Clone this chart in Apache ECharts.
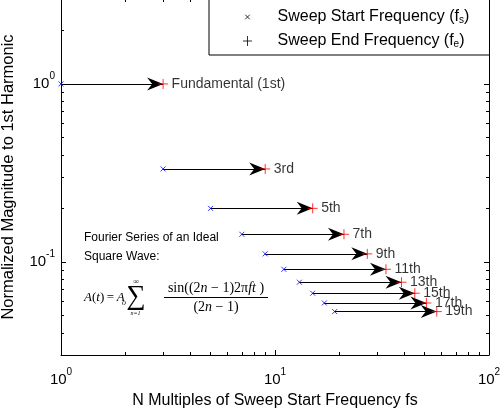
<!DOCTYPE html>
<html><head><meta charset="utf-8">
<script src="https://cdn.jsdelivr.net/npm/echarts@6/dist/echarts.min.js"></script>
<style>html,body{margin:0;padding:0;background:#fff}#c{width:500px;height:409px}</style>
</head><body><div id="c"></div>
<script>
// ---- data ----
const harmonicLabels = ['Fundamental (1st)','3rd','5th','7th','9th','11th','13th','15th','17th','19th'];
const startFreq = [1, 3, 5, 7, 9, 11, 13, 15, 17, 19];
const endFreq = [3, 9, 15, 21, 27, 33, 39, 45, 51, 57];
const magnitude = [1, 0.333, 0.2, 0.143, 0.111, 0.0909, 0.0769, 0.0667, 0.0588, 0.0526];
const xMajorTicks = [1, 10, 100];
const xMinorTicks = [2,3,4,5,6,7,8,9,20,30,40,50,60,70,80,90];
const yMajorTicks = [0.1, 1];
const yMinorTicks = [0.04,0.05,0.06,0.07,0.08,0.09,0.2,0.3,0.4,0.5,0.6,0.7,0.8,0.9,2];
const startName = 'Sweep Start Frequency';
const endName = 'Sweep End Frequency';

const SANS = 'Liberation Sans, Arial, sans-serif';
const SERIF = 'Liberation Serif, Times New Roman, serif';

const X_PATH = 'path://M0,0L10,10M10,0L0,10';
const PLUS_PATH = 'path://M5,0L5,10M0,5L10,5';
const ARROW_PATH = 'path://M6.5,0M6.5,16L13,32L6.5,27L0,32Z';

const chart = echarts.init(document.getElementById('c'), null, {renderer: 'canvas'});

const supFmt = v => '{b|10}{s|' + Math.round(Math.log10(v)) + '}';
const supRich = {
  b: {fontSize: 15, fontFamily: SANS, color: '#000', lineHeight: 26},
  s: {fontSize: 10, fontFamily: SANS, color: '#000', verticalAlign: 'top', lineHeight: 12}
};

function xAx(pos, ticks, len, labels, line) {
  const a = {
    type: 'log', logBase: 10, min: 1, max: 100, position: pos, gridIndex: 0,
    axisLine: {show: line, lineStyle: {color: '#000', width: 1}},
    axisTick: {show: true, inside: true, length: len, customValues: ticks, lineStyle: {color: '#000', width: 1}},
    axisLabel: {show: labels},
    splitLine: {show: false}, minorTick: {show: false}
  };
  if (labels) {
    a.axisLabel = {show: true, customValues: xMajorTicks, formatter: supFmt, rich: supRich, margin: 12};
    a.name = 'N Multiples of Sweep Start Frequency fs';
    a.nameLocation = 'middle';
    a.nameGap = 31;
    a.nameTextStyle = {fontSize: 16, fontFamily: SANS, color: '#000'};
  }
  return a;
}
function yAx(pos, ticks, len, labels, line) {
  const a = {
    type: 'log', logBase: 10, min: 0.03, max: 3, position: pos, gridIndex: 0,
    axisLine: {show: line, lineStyle: {color: '#000', width: 1}},
    axisTick: {show: true, inside: true, length: len, customValues: ticks, lineStyle: {color: '#000', width: 1}},
    axisLabel: {show: labels},
    splitLine: {show: false}, minorTick: {show: false}
  };
  if (labels) {
    a.axisLabel = {show: true, customValues: yMajorTicks, formatter: supFmt, rich: supRich, margin: 6};
    a.name = 'Normalized Magnitude to 1st Harmonic';
    a.nameLocation = 'middle';
    a.nameGap = 44;
    a.nameTextStyle = {fontSize: 16.5, fontFamily: SANS, color: '#000'};
  }
  return a;
}

const option = {
  backgroundColor: '#fff',
  animation: false,
  grid: {left: 61, right: 11, top: -1, bottom: 54, containLabel: false, outerBoundsMode: 'none'},
  xAxis: [
    xAx('bottom', xMajorTicks, 5, true, true),
    xAx('bottom', xMinorTicks, 3, false, false),
    xAx('top', xMajorTicks, 5, false, true),
    xAx('top', xMinorTicks, 3, false, false)
  ],
  yAxis: [
    yAx('left', yMajorTicks, 5, true, true),
    yAx('left', yMinorTicks, 3, false, false),
    yAx('right', yMajorTicks, 5, false, true),
    yAx('right', yMinorTicks, 3, false, false)
  ],
  legend: {
    show: true, orient: 'vertical', left: 209, top: -1,
    padding: [10, 11, 6, 13], itemGap: 8,
    itemWidth: 50, itemHeight: 14,
    backgroundColor: '#fff', borderColor: '#000', borderWidth: 1, borderRadius: 0,
    selectedMode: false,
    itemStyle: {color: '#000', borderColor: '#000', borderWidth: 1},
    data: [
      {name: startName, icon: 'path://M0,0M50,14M22.7,4.7L27.3,9.3M27.3,4.7L22.7,9.3'},
      {name: endName, icon: 'path://M0,0M50,14M20.5,7L29.5,7M25,2L25,12'}
    ],
    formatter: n => n === startName
      ? '{t|Sweep Start Frequency (f}{sub|s}{t|)}'
      : '{t|Sweep End Frequency (f}{sub|e}{t|)}',
    textStyle: {
      fontSize: 16, fontFamily: SANS, color: '#000', width: 201, lineHeight: 16,
      rich: {
        t: {fontSize: 16, fontFamily: SANS, color: '#000', lineHeight: 16},
        sub: {fontSize: 10, fontFamily: SANS, color: '#000', lineHeight: 10, verticalAlign: 'bottom'}
      }
    }
  },
  series: [
    {
      type: 'lines', coordinateSystem: 'cartesian2d', xAxisIndex: 0, yAxisIndex: 0,
      polyline: false, silent: true, z: 2,
      symbol: ['none', ARROW_PATH], symbolSize: [1, [13, 32]],
      lineStyle: {color: '#000', width: 1, opacity: 1, curveness: 0},
      data: startFreq.map((s, i) => ({coords: [[s, magnitude[i]], [endFreq[i], magnitude[i]]]}))
    },
    {
      name: startName, type: 'scatter', xAxisIndex: 0, yAxisIndex: 0, z: 3,
      symbol: X_PATH, symbolSize: 5,
      itemStyle: {color: '#0000ff', borderColor: '#0000ff', borderWidth: 1},
      data: startFreq.map((s, i) => [s, magnitude[i]])
    },
    {
      name: endName, type: 'scatter', xAxisIndex: 0, yAxisIndex: 0, z: 3,
      symbol: PLUS_PATH, symbolSize: 10,
      itemStyle: {color: '#ff0000', borderColor: '#ff0000', borderWidth: 1},
      label: {
        show: true, position: 'right', distance: 3,
        fontSize: 14, fontFamily: SANS, color: '#000',
        formatter: p => harmonicLabels[p.dataIndex]
      },
      data: endFreq.map((e, i) => [e, magnitude[i]])
    }
  ],
  graphic: [
    {type: 'text', x: 84, y: 238, style: {text: 'Fourier Series of an Ideal', font: '12px ' + SANS, fill: '#000', verticalAlign: 'middle'}},
    {type: 'text', x: 84, y: 257, style: {text: 'Square Wave:', font: '12px ' + SANS, fill: '#000', verticalAlign: 'middle'}},
    {type: 'text', x: 84, y: 298, style: {
      text: '{i|A}{r|(}{i|t}{r|)\u2009=\u2009}{i|A}',
      verticalAlign: 'middle',
      rich: {i: {fontFamily: SERIF, fontStyle: 'italic', fontSize: 13, fill: '#000'}, r: {fontFamily: SERIF, fontSize: 13, fill: '#000'}}
    }},
    {type: 'text', x: 122, y: 303, style: {text: 'o', font: 'italic 8px ' + SERIF, fill: '#000', verticalAlign: 'middle'}},
    {type: 'text', x: 136, y: 297, style: {text: '\u2211', font: '27px ' + SERIF, fill: '#000', align: 'center', verticalAlign: 'middle'}},
    {type: 'text', x: 136, y: 282, style: {text: '\u221e', font: '8px ' + SERIF, fill: '#000', align: 'center', verticalAlign: 'middle'}},
    {type: 'text', x: 135.5, y: 313, style: {text: 'n=1', font: 'italic 6px ' + SERIF, fill: '#000', align: 'center', verticalAlign: 'middle'}},
    {type: 'text', x: 216, y: 288, style: {
      text: '{r|sin((2}{i|n}{r| \u2212 1)2\u03c0}{i|ft}{r| )}',
      align: 'center', verticalAlign: 'middle',
      rich: {i: {fontFamily: SERIF, fontStyle: 'italic', fontSize: 14, fill: '#000'}, r: {fontFamily: SERIF, fontSize: 14, fill: '#000'}}
    }},
    {type: 'line', shape: {x1: 164, y1: 297.5, x2: 268, y2: 297.5}, style: {stroke: '#000', lineWidth: 1}},
    {type: 'text', x: 216, y: 307, style: {
      text: '{r|(2}{i|n}{r| \u2212 1)}',
      align: 'center', verticalAlign: 'middle',
      rich: {i: {fontFamily: SERIF, fontStyle: 'italic', fontSize: 14, fill: '#000'}, r: {fontFamily: SERIF, fontSize: 14, fill: '#000'}}
    }}
  ]
};
chart.setOption(option);
</script>
</body></html>
